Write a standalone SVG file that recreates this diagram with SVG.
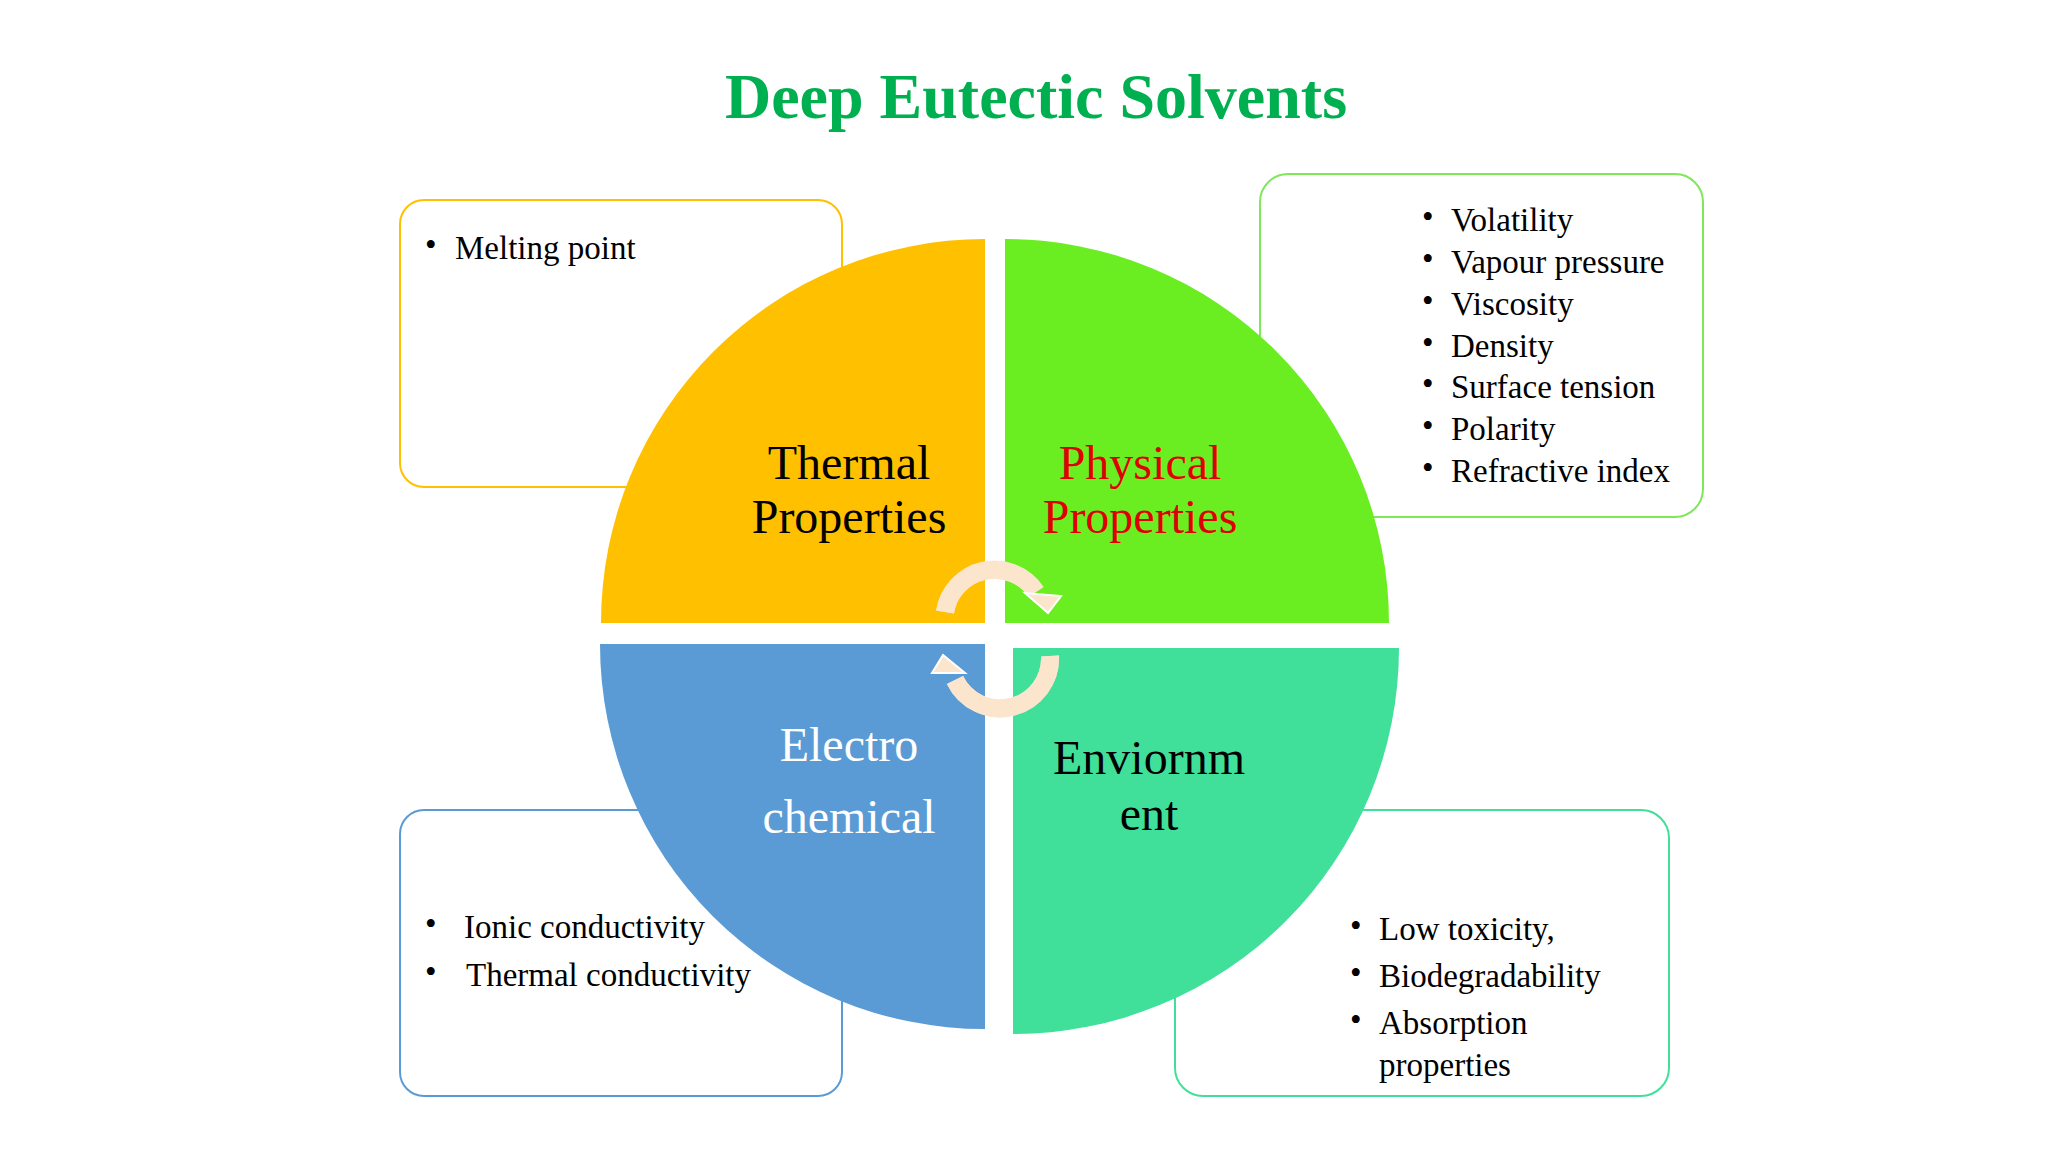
<svg xmlns="http://www.w3.org/2000/svg" width="2048" height="1152" viewBox="0 0 2048 1152">
<style>
.box{fill:#fff;stroke-width:2}
.t{font-family:"Liberation Serif",serif}
.q{font-size:48px;text-anchor:middle}
.b{font-size:33px;fill:#000}
.arr{fill:none;stroke:#FBE5CD;stroke-width:18}
.ah{fill:#FBE5CD}
</style>
<rect width="2048" height="1152" fill="#fff"/>
<text class="t" x="1036" y="118" text-anchor="middle" font-size="64" font-weight="bold" fill="#00B050">Deep Eutectic Solvents</text>
<g id="box-thermal"><rect class="box" x="400" y="200" width="442" height="287" rx="24" stroke="#FFC000"/>
<text class="t b" x="425" y="256">•</text><text class="t b" x="455" y="259">Melting point</text></g>
<g id="box-physical"><rect class="box" x="1260" y="174" width="443" height="343" rx="28" stroke="#7EE85A"/>
<g class="t b"><text x="1422" y="228">•</text><text x="1451" y="231">Volatility</text>
<text x="1422" y="270">•</text><text x="1451" y="273">Vapour pressure</text>
<text x="1422" y="312">•</text><text x="1451" y="315">Viscosity</text>
<text x="1422" y="354">•</text><text x="1451" y="357">Density</text>
<text x="1422" y="395">•</text><text x="1451" y="398">Surface tension</text>
<text x="1422" y="437">•</text><text x="1451" y="440">Polarity</text>
<text x="1422" y="479">•</text><text x="1451" y="482">Refractive index</text></g></g>
<g id="box-electro"><rect class="box" x="400" y="810" width="442" height="286" rx="24" stroke="#5B9BD5"/>
<g class="t b"><text x="425" y="935">•</text><text x="464" y="938">Ionic conductivity</text>
<text x="425" y="983">•</text><text x="466" y="986">Thermal conductivity</text></g></g>
<g id="box-env"><rect class="box" x="1175" y="810" width="494" height="286" rx="28" stroke="#40E09A"/>
<g class="t b"><text x="1350" y="937">•</text><text x="1379" y="940">Low toxicity,</text>
<text x="1350" y="984">•</text><text x="1379" y="987">Biodegradability</text>
<text x="1350" y="1031">•</text><text x="1379" y="1034">Absorption</text>
<text x="1379" y="1076">properties</text></g></g>
<g id="thermal"><path d="M985 623 L601 623 A384 384 0 0 1 985 239 Z" fill="#FFC000"/>
<text class="t q" x="849" y="479">Thermal</text><text class="t q" x="849" y="533">Properties</text></g>
<g id="physical"><path d="M1005 623 L1005 239 A384 384 0 0 1 1389 623 Z" fill="#6AEE22"/>
<text class="t q" x="1140" y="479" fill="#E00000">Physical</text><text class="t q" x="1140" y="533" fill="#E00000">Properties</text></g>
<g id="electro"><path d="M985 644 L985 1029 A385 385 0 0 1 600 644 Z" fill="#5B9BD5"/>
<text class="t q" x="849" y="761" fill="#fff">Electro</text><text class="t q" x="849" y="833" fill="#fff">chemical</text></g>
<g id="env"><path d="M1013 648 L1399 648 A386 386 0 0 1 1013 1034 Z" fill="#40E09A"/>
<text class="t q" x="1149" y="774">Enviornm</text><text class="t q" x="1149" y="830">ent</text></g>
<g id="connectors">
<path class="arr" d="M945 612 A50 50 0 0 1 1036 592" stroke="#fff" stroke-width="22"/>
<path class="arr" d="M945 612 A50 50 0 0 1 1036 592"/>
<polygon class="ah" points="1048,613 1025,593 1061,596" stroke="#fff" stroke-width="2"/>
<path class="arr" d="M1050 656 A50 50 0 0 1 955 680" stroke="#fff" stroke-width="22"/>
<path class="arr" d="M1050 656 A50 50 0 0 1 955 680"/>
<polygon class="ah" points="932,673 943,655 965,673" stroke="#fff" stroke-width="2"/>
</g>
</svg>
